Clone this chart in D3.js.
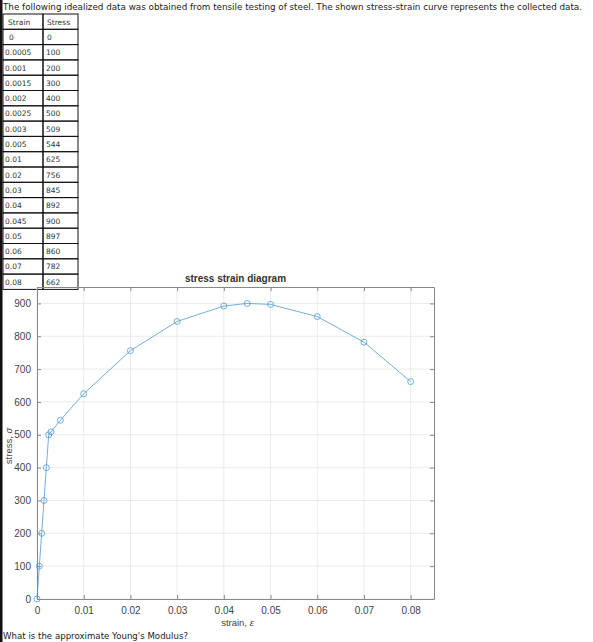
<!DOCTYPE html>
<html>
<head>
<meta charset="utf-8">
<script src="https://cdn.jsdelivr.net/npm/d3@7"></script>
<style>
  body { margin: 0; background: #fff; }
  .page-text { font-family: "DejaVu Sans", sans-serif; font-size: 8.5px; fill: #222; }
  .cell { font-family: "DejaVu Sans", sans-serif; font-size: 7.5px; fill: #333; }
  .axis text { font-family: "Liberation Sans", Arial, sans-serif; font-size: 10px; fill: #444; }
  .title { font-family: "Liberation Sans", Arial, sans-serif; font-size: 10px; font-weight: bold; fill: #333; }
  .label { font-family: "Liberation Sans", Arial, sans-serif; font-size: 9.5px; fill: #444; }
</style>
</head>
<body>
<div id="chart"></div>
<script>
(function (d3) {
    'use strict';

    var strain = [0, 0.0005, 0.001, 0.0015, 0.002, 0.0025, 0.003, 0.005, 0.01, 0.02, 0.03, 0.04, 0.045, 0.05, 0.06, 0.07, 0.08];
    var stress = [0, 100, 200, 300, 400, 500, 509, 544, 625, 756, 845, 892, 900, 897, 860, 782, 662];
    var xTicks = [0, 0.01, 0.02, 0.03, 0.04, 0.05, 0.06, 0.07, 0.08];
    var yTicks = [0, 100, 200, 300, 400, 500, 600, 700, 800, 900];

    var W = 593, H = 642;

    // Plot box.
    var margin = {top: 287, right: 159, bottom: 43, left: 37};
    var width = W - margin.left - margin.right;
    var height = H - margin.top - margin.bottom;

    var x = d3.scaleLinear().domain([0, 0.085]).range([0, width]);
    var y = d3.scaleLinear().domain([0, 950]).range([height, 0]);

    var svg = d3.select('#chart').append('svg')
        .attr('width', W)
        .attr('height', H);

    // left black bar
    svg.append('rect')
        .attr('x', 0).attr('y', 0)
        .attr('width', 2.5).attr('height', H)
        .attr('fill', '#111');

    svg.append('text')
        .attr('class', 'page-text')
        .attr('x', 3).attr('y', 10)
        .attr('textLength', 579)
        .attr('lengthAdjust', 'spacingAndGlyphs')
        .text('The following idealized data was obtained from tensile testing of steel. The shown stress-strain curve represents the collected data.');

    svg.append('text')
        .attr('class', 'page-text')
        .attr('x', 3).attr('y', 639)
        .attr('textLength', 185)
        .attr('lengthAdjust', 'spacingAndGlyphs')
        .text("What is the approximate Young's Modulus?");

    // Table
    var rows = [['Strain', 'Stress']].concat(strain.map(function (s, i) {
        return [String(s), String(stress[i])];
    }));
    var tX = 3, tY = 14, rowH = 15.3;
    var colX = [tX, 43, 78];
    var table = svg.append('g');

    rows.forEach(function (r, i) {
        var yy = tY + i * rowH;
        table.append('rect')
            .attr('x', colX[0]).attr('y', yy)
            .attr('width', colX[1] - colX[0]).attr('height', rowH)
            .attr('fill', 'none').attr('stroke', '#111').attr('stroke-width', 1);
        table.append('rect')
            .attr('x', colX[1]).attr('y', yy)
            .attr('width', colX[2] - colX[1]).attr('height', rowH)
            .attr('fill', 'none').attr('stroke', '#111').attr('stroke-width', 1);
        table.append('text')
            .attr('class', 'cell')
            .attr('x', i === 0 ? colX[0] + 5 : (r[0] === '0' ? colX[0] + 6 : colX[0] + 2))
            .attr('y', yy + rowH / 2 + 3)
            .text(r[0]);
        table.append('text')
            .attr('class', 'cell')
            .attr('x', i === 0 ? colX[1] + 4 : (r[1] === '0' ? colX[1] + 4 : colX[1] + 3))
            .attr('y', yy + rowH / 2 + 3)
            .text(r[1]);
    });

    var vis = svg.append('g')
        .attr('transform', 'translate(' + margin.left + ',' + margin.top + ')');

    // Grid
    vis.append('g').selectAll('line.gx')
        .data(xTicks).enter().append('line')
        .attr('x1', function (d) { return x(d); })
        .attr('x2', function (d) { return x(d); })
        .attr('y1', 0).attr('y2', height)
        .attr('stroke', '#e4e4e4').attr('stroke-width', 0.8);
    vis.append('g').selectAll('line.gy')
        .data(yTicks).enter().append('line')
        .attr('y1', function (d) { return y(d); })
        .attr('y2', function (d) { return y(d); })
        .attr('x1', 0).attr('x2', width)
        .attr('stroke', '#e4e4e4').attr('stroke-width', 0.8);

    // Axes (inward ticks, MATLAB style)
    var axisColor = '#888';
    var xAxis = vis.append('g')
        .attr('class', 'axis')
        .attr('transform', 'translate(0,' + height + ')')
        .call(d3.axisBottom(x).tickValues(xTicks).tickSizeInner(-4).tickSizeOuter(0).tickPadding(8)
            .tickFormat(function (d) { return d === 0 ? '0' : d3.format('.2f')(d); }));
    var yAxis = vis.append('g')
        .attr('class', 'axis')
        .call(d3.axisLeft(y).tickValues(yTicks).tickSizeInner(-4).tickSizeOuter(0).tickPadding(6));
    var xTop = vis.append('g')
        .call(d3.axisTop(x).tickValues(xTicks).tickSizeInner(-4).tickSizeOuter(0).tickFormat(''));
    var yRight = vis.append('g')
        .attr('transform', 'translate(' + width + ',0)')
        .call(d3.axisRight(y).tickValues(yTicks).tickSizeInner(-4).tickSizeOuter(0).tickFormat(''));

    [xAxis, yAxis, xTop, yRight].forEach(function (g) {
        g.selectAll('path').attr('stroke', axisColor).attr('stroke-width', 1);
        g.selectAll('line').attr('stroke', axisColor).attr('stroke-width', 1);
    });

    // Line + markers
    var pts = strain.map(function (s, i) { return {strain: s, stress: stress[i]}; });
    var lineColor = '#4f9bd3';

    var valueLine = d3.line()
        .x(function (d) { return x(d.strain); })
        .y(function (d) { return y(d.stress); });

    vis.append('path')
        .datum(pts)
        .attr('d', valueLine)
        .attr('fill', 'none')
        .attr('stroke', lineColor)
        .attr('stroke-width', 0.8);

    vis.append('g').selectAll('circle')
        .data(pts).enter().append('circle')
        .attr('cx', function (d) { return x(d.strain); })
        .attr('cy', function (d) { return y(d.stress); })
        .attr('r', 3)
        .attr('fill', 'none')
        .attr('stroke', lineColor)
        .attr('stroke-width', 0.8);

    // Titles
    svg.append('text')
        .attr('class', 'title')
        .attr('x', margin.left + width / 2).attr('y', 282)
        .attr('text-anchor', 'middle')
        .text('stress strain diagram');

    var xl = svg.append('text')
        .attr('class', 'label')
        .attr('x', margin.left + width / 2 + 2).attr('y', 626)
        .attr('text-anchor', 'middle');
    xl.append('tspan').text('strain, ');
    xl.append('tspan').attr('font-style', 'italic').text('ε');

    var yl = svg.append('text')
        .attr('class', 'label')
        .attr('transform', 'translate(12,' + (margin.top + height / 2 + 3) + ') rotate(-90)')
        .attr('text-anchor', 'middle');
    yl.append('tspan').text('stress, ');
    yl.append('tspan').attr('font-style', 'italic').text('σ');
})(d3);
</script>
</body>
</html>
